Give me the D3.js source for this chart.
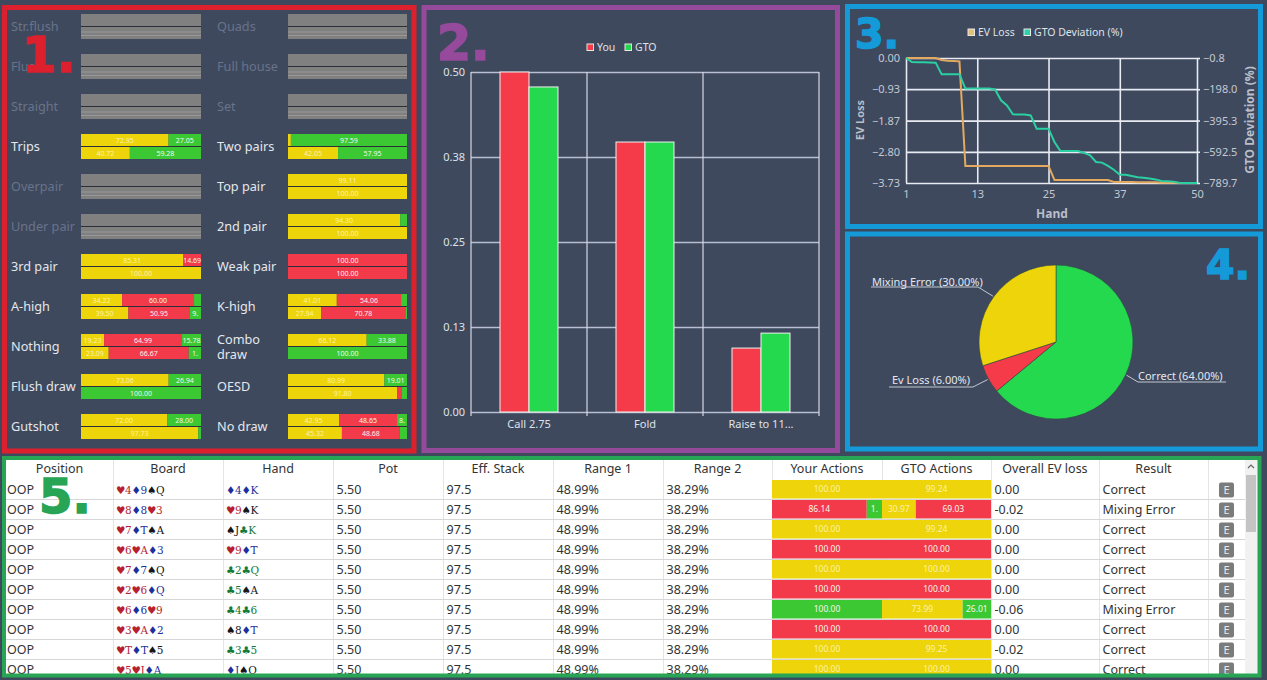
<!DOCTYPE html>
<html>
<head>
<meta charset="utf-8">
<script src="https://cdn.jsdelivr.net/npm/d3@7"></script>
<style>
  body { margin: 0; background: #3e495e; overflow: hidden; }
  svg { display: block; font-family: "Noto Sans", "Open Sans", sans-serif; }
  .axis path { display: none; }
</style>
</head>
<body>
<div id="chart"></div>
<script>
'use strict'

// 1. hand categories, [yellow, red, green] shares, null = no data
const leftNames = ['Str.flush', 'Flush', 'Straight', 'Trips', 'Overpair', 'Under pair', '3rd pair', 'A-high', 'Nothing', 'Flush draw', 'Gutshot']
const rightNames = ['Quads', 'Full house', 'Set', 'Two pairs', 'Top pair', '2nd pair', 'Weak pair', 'K-high', 'Combo draw', 'OESD', 'No draw']
const leftTop = [null, null, null, [72.95, 0, 27.05], null, null, [85.31, 14.69, 0], [34.22, 60.00, 5.78], [19.23, 64.99, 15.78], [73.06, 0, 26.94], [72.00, 0, 28.00]]
const leftBottom = [null, null, null, [40.72, 0, 59.28], null, null, [100, 0, 0], [39.50, 50.95, 9.55], [23.09, 66.67, 10.24], [0, 0, 100], [97.73, 0, 2.27]]
const rightTop = [null, null, null, [2.41, 0, 97.59], [99.11, 0, 0], [94.30, 0, 5.70], [0, 100, 0], [41.01, 54.06, 4.93], [66.12, 0, 33.88], [80.99, 0, 19.01], [42.95, 48.65, 8.40]]
const rightBottom = [null, null, null, [42.05, 0, 57.95], [100, 0, 0], [100, 0, 0], [0, 100, 0], [27.94, 70.78, 1.28], [0, 0, 100], [91.80, 3.90, 4.30], [45.32, 48.68, 6.00]]

// 2. action frequencies
const actions = ['Call 2.75', 'Fold', 'Raise to 11...']
const youFreq = [0.5, 0.397, 0.094]
const gtoFreq = [0.478, 0.397, 0.116]
const freqTicks = [0, 0.125, 0.25, 0.375, 0.5]
const freqLabels = ['0.00', '0.13', '0.25', '0.38', '0.50']

// 3. cumulative lines, hands 1..50
const evLoss = [0, 0, 0, 0, 0, 0, -0.06, -0.08, -0.09, -0.10, -3.22, -3.22, -3.22, -3.22, -3.22, -3.22, -3.22, -3.22, -3.22, -3.22, -3.22, -3.22, -3.22, -3.22, -3.22, -3.64, -3.64, -3.64, -3.64, -3.64, -3.64, -3.64, -3.64, -3.64, -3.64, -3.70, -3.70, -3.70, -3.70, -3.71, -3.71, -3.71, -3.71, -3.72, -3.72, -3.72, -3.73, -3.73, -3.73, -3.73]
const gtoDeviation = [-0.8, -26, -27, -28, -29, -30, -104, -104, -104, -104, -194, -194, -194, -194, -194, -199, -268, -300, -356, -358, -358, -363, -447, -447, -447, -531, -588, -588, -588, -588, -600, -615, -657, -661, -682, -706, -737, -737, -745, -754, -756, -762, -767, -777, -779, -781, -788, -789.7, -789.7, -789.7]
const handTicks = [1, 13, 25, 37, 50]
const evTicks = [0, -0.93, -1.87, -2.80, -3.73]
const devTicks = [-0.8, -198.0, -395.3, -592.5, -789.7]

// 4. result share
const resultNames = ['Correct', 'Ev Loss', 'Mixing Error']
const resultShare = [64, 6, 30]

// 5. table
const tableHeaders = ['Position', 'Board', 'Hand', 'Pot', 'Eff. Stack', 'Range 1', 'Range 2', 'Your Actions', 'GTO Actions', 'Overall EV loss', 'Result', '']
const boards = ['h4 d9 sQ', 'h8 d8 h3', 'h7 dT sA', 'h6 hA d3', 'h7 d7 sQ', 'h2 h6 dQ', 'h6 d6 h9', 'h3 hA d2', 'hT dT s5', 'h5 hJ dA']
const hands = ['d4 dK', 'h9 sK', 'sJ cK', 'h9 dT', 'c2 cQ', 'c5 sA', 'c4 c6', 's8 dT', 'c3 c5', 'dJ sQ']
const yourActions = [[100, 0, 0], [0, 86.14, 13.86], [100, 0, 0], [0, 100, 0], [100, 0, 0], [0, 100, 0], [0, 0, 100], [0, 100, 0], [100, 0, 0], [100, 0, 0]]
const gtoActions = [[99.24, 0, 0], [30.97, 69.03, 0], [99.24, 0, 0], [0, 100, 0], [100, 0, 0], [0, 100, 0], [73.99, 0, 26.01], [0, 100, 0], [99.25, 0, 0], [100, 0, 0]]
const overallEv = ['0.00', '-0.02', '0.00', '0.00', '0.00', '0.00', '-0.06', '0.00', '-0.02', '0.00']
const results = ['Correct', 'Mixing Error', 'Correct', 'Correct', 'Correct', 'Correct', 'Mixing Error', 'Correct', 'Correct', 'Correct']

const BG = '#3e495e', YELLOW = '#eed40a', RED = '#f23a4a', GREEN = '#3cc832', BRIGHT = '#25d94f'
const segColors = [YELLOW, RED, GREEN]

const svg = d3.select('#chart').append('svg').attr('width', 1267).attr('height', 680)
svg.append('rect').attr('width', 1267).attr('height', 680).attr('fill', BG)

// stacked bar of [yellow, red, green], used by panel 1 and the table
function stackBar(g, shares, x0, x1, y0, y1, fontSize) {
    const x = d3.scaleLinear().domain([0, d3.sum(shares)]).range([x0, x1])
    let cum = 0
    shares.forEach((v, i) => {
        if (v <= 0) return
        const a = x(cum), b = x(cum + v)
        cum += v
        g.append('rect').attr('x', a).attr('y', y0).attr('width', b - a).attr('height', y1 - y0).attr('fill', segColors[i])
        // narrow cells cut the number, like the app does
        let label = v.toFixed(2)
        const fits = Math.floor((b - a) / (fontSize * 0.62))
        if (fits < label.length - 1) label = fits >= 2 ? label.slice(0, fits - 1) + '.' : ''
        if (label) {
            g.append('text').attr('x', (a + b) / 2).attr('y', (y0 + y1) / 2 + fontSize * 0.36)
                .attr('text-anchor', 'middle').attr('font-size', fontSize)
                .attr('fill', i == 0 ? '#fbf3a8' : '#f4f6ee').text(label)
        }
    })
}

// ---- panel 1
const rowY = d3.scalePoint().domain(d3.range(11)).range([26.5, 426.5])

function handColumn(names, tops, bottoms, labelX, barX0, barX1) {
    const col = svg.append('g')
    names.forEach((name, i) => {
        const cy = rowY(i), dim = tops[i] == null
        const label = col.append('text').attr('x', labelX).attr('font-size', 12.7)
            .attr('fill', dim ? '#69738a' : '#e4e7ec')
        if (name == 'Combo draw') {
            label.append('tspan').attr('x', labelX).attr('y', cy - 3).text('Combo')
            label.append('tspan').attr('x', labelX).attr('y', cy + 12).text('draw')
        } else {
            label.attr('y', cy + 4.5).text(name)
        }
        if (dim) {
            col.append('rect').attr('x', barX0).attr('y', cy - 12.5).attr('width', barX1 - barX0).attr('height', 25).attr('fill', '#808080')
            col.append('rect').attr('x', barX0).attr('y', cy + 5).attr('width', barX1 - barX0).attr('height', 1).attr('fill', '#989898')
            col.append('rect').attr('x', barX0).attr('y', cy + 8.5).attr('width', barX1 - barX0).attr('height', 1).attr('fill', '#989898')
        } else {
            stackBar(col, tops[i], barX0, barX1, cy - 12.5, cy - 0.5, 7)
            stackBar(col, bottoms[i], barX0, barX1, cy + 0.5, cy + 12.5, 7)
        }
        col.append('rect').attr('x', barX0).attr('y', cy - 0.5).attr('width', barX1 - barX0).attr('height', 1).attr('fill', '#2a2f3a')
    })
}
handColumn(leftNames, leftTop, leftBottom, 11, 81, 201)
handColumn(rightNames, rightTop, rightBottom, 217, 288, 407)

// ---- panel 2
const freqX = d3.scaleBand().domain(actions).range([471, 819])
const freqY = d3.scaleLinear().domain([0, 0.5]).range([412, 72])
const bars = svg.append('g')

const freqAxisY = bars.append('g').attr('class', 'axis').attr('transform', 'translate(471,0)')
    .call(d3.axisLeft(freqY).tickValues(freqTicks).tickFormat((d, i) => freqLabels[i]).tickSize(-348).tickPadding(6))
freqAxisY.selectAll('line').attr('stroke', '#b9bed2').attr('stroke-width', 1.6)
freqAxisY.selectAll('text').attr('fill', '#dfe2e8').attr('font-size', 11).attr('font-family', 'Noto Sans')

bars.append('g').selectAll('line').data(actions.concat(['end'])).join('line')
    .attr('x1', d => d == 'end' ? freqX.range()[1] : freqX(d))
    .attr('x2', d => d == 'end' ? freqX.range()[1] : freqX(d))
    .attr('y1', 72).attr('y2', 416)
    .attr('stroke', '#d5d8e4').attr('stroke-width', 1.2)

const freqAxisX = bars.append('g').attr('class', 'axis').attr('transform', 'translate(0,412)')
    .call(d3.axisBottom(freqX).tickSize(0).tickPadding(8))
freqAxisX.selectAll('text').attr('fill', '#dfe2e8').attr('font-size', 11).attr('font-family', 'Noto Sans')

const barW = freqX.bandwidth() / 4
;[[youFreq, '#f53a4a', -1], [gtoFreq, BRIGHT, 0]].forEach(([vals, color, off]) => {
    bars.append('g').selectAll('rect').data(vals).join('rect')
        .attr('x', (d, i) => freqX(actions[i]) + freqX.bandwidth() / 2 + off * barW)
        .attr('y', d => freqY(d))
        .attr('width', barW)
        .attr('height', d => freqY(0) - freqY(d))
        .attr('fill', color).attr('stroke', '#f0f2ee').attr('stroke-width', 1)
})

function legendItem(x, y, color, label) {
    svg.append('rect').attr('x', x - 3).attr('y', y - 3).attr('width', 6.5).attr('height', 6.5)
        .attr('fill', color).attr('stroke', '#e8e8e0').attr('stroke-width', 1)
    svg.append('text').attr('x', x + 7).attr('y', y + 4).attr('font-size', 10.5).attr('fill', '#dfe2e8').text(label)
}
legendItem(590, 47, '#f53a4a', 'You')
legendItem(628, 47, BRIGHT, 'GTO')

// ---- panel 3
const handX = d3.scaleLinear().domain([1, 50]).range([906, 1197])
const evY = d3.scaleLinear().domain([-3.73, 0]).range([183, 58])
const devY = d3.scaleLinear().domain([-789.7, -0.8]).range([183, 58])
const lines = svg.append('g')
const tickStyle = sel => {
    sel.selectAll('line').attr('stroke', '#e8ebf2').attr('stroke-width', 1.6)
    sel.selectAll('text').attr('fill', '#c3c8d2').attr('font-size', 11).attr('font-family', 'Noto Sans')
}
lines.append('g').attr('class', 'axis').attr('transform', 'translate(906,0)')
    .call(d3.axisLeft(evY).tickValues(evTicks).tickFormat(d3.format('.2f')).tickSize(-291).tickPadding(6)).call(tickStyle)
lines.append('g').attr('class', 'axis').attr('transform', 'translate(1197,0)')
    .call(d3.axisRight(devY).tickValues(devTicks).tickFormat(d3.format('.1f')).tickSize(3).tickPadding(3)).call(tickStyle)
lines.append('g').attr('class', 'axis').attr('transform', 'translate(0,183)')
    .call(d3.axisBottom(handX).tickValues(handTicks).tickFormat(d => String(d)).tickSize(-125).tickPadding(7)).call(tickStyle)

lines.append('path').datum(evLoss).attr('fill', 'none').attr('stroke', '#e2a95f').attr('stroke-width', 2)
    .attr('d', d3.line().x((d, i) => handX(i + 1)).y(d => evY(d)))
lines.append('path').datum(gtoDeviation).attr('fill', 'none').attr('stroke', '#2ad0a2').attr('stroke-width', 2)
    .attr('d', d3.line().x((d, i) => handX(i + 1)).y(d => devY(d)))

legendItem(971, 32, '#e2c07a', 'EV Loss')
legendItem(1027, 32, '#2ad0b0', 'GTO Deviation (%)')

lines.append('text').attr('x', 1052).attr('y', 218).attr('text-anchor', 'middle').attr('font-size', 12).attr('font-weight', 700).attr('fill', '#b9bec9').text('Hand')
lines.append('text').attr('transform', 'translate(864,120) rotate(-90)').attr('text-anchor', 'middle').attr('font-size', 11).attr('font-weight', 700).attr('fill', '#b9bec9').text('EV Loss')
lines.append('text').attr('transform', 'translate(1254,120) rotate(-90)').attr('text-anchor', 'middle').attr('font-size', 12).attr('font-weight', 700).attr('fill', '#b9bec9').text('GTO Deviation (%)')

// ---- panel 4
const pieG = svg.append('g').attr('transform', 'translate(1056,342)')
const slices = d3.pie().sort(null)(resultShare)
const sliceColors = [BRIGHT, '#f53a4a', YELLOW]
pieG.selectAll('path').data(slices).join('path')
    .attr('d', d3.arc().innerRadius(0).outerRadius(77))
    .attr('fill', (d, i) => sliceColors[i])
    .attr('stroke', '#2f4a45').attr('stroke-width', 0.6)

const leaderArc = d3.arc().innerRadius(78).outerRadius(78)
// text start, baseline and underline span relative to pie centre
const pieLabels = [
    {x: 82, y: 39, ux0: 82, ux1: 170, uy: 40},
    {x: -164, y: 43, ux0: -167, ux1: -83, uy: 45},
    {x: -184, y: -55, ux0: -185, ux1: -78, uy: -55}
]
slices.forEach((d, i) => {
    const [sx, sy] = leaderArc.centroid(d), p = pieLabels[i]
    const near = sx > 0 ? p.ux0 : p.ux1
    pieG.append('path').attr('fill', 'none').attr('stroke', '#e4e7ee').attr('stroke-width', 0.8)
        .attr('d', d3.line()([[sx, sy], [near, p.uy], [sx > 0 ? p.ux1 : p.ux0, p.uy]]))
    pieG.append('text').attr('x', p.x).attr('y', p.y - 1.5).attr('font-size', 11).attr('fill', '#e4e7ee')
        .text(`${resultNames[i]} (${resultShare[i].toFixed(2)}%)`)
})

// ---- panel 5
const colEdges = [6, 113, 223, 333, 443, 553, 663, 772, 882, 991, 1099, 1208, 1245]
const tableRowY = d3.scaleLinear().domain([0, 1]).range([480, 500])
const suitGlyph = {h: '♥', d: '♦', s: '♠', c: '♣'}
const suitColor = {h: '#b81f2f', d: '#1b2f9e', s: '#15151a', c: '#147a35'}

svg.append('clipPath').attr('id', 'tableClip').append('rect').attr('x', 4).attr('y', 459).attr('width', 1254).attr('height', 215)
const table = svg.append('g').attr('clip-path', 'url(#tableClip)')
table.append('rect').attr('x', 4).attr('y', 459).attr('width', 1254).attr('height', 215).attr('fill', '#ffffff')

colEdges.slice(1, 12).forEach(x => {
    table.append('line').attr('x1', x + 0.5).attr('x2', x + 0.5).attr('y1', 459).attr('y2', 680).attr('stroke', '#e4e4e4')
})
tableHeaders.forEach((h, i) => {
    table.append('text').attr('x', (colEdges[i] + colEdges[i + 1]) / 2).attr('y', 473)
        .attr('text-anchor', 'middle').attr('font-size', 12.5).attr('fill', '#333').text(h)
})

function cards(g, x, y, spec) {
    const t = g.append('text').attr('x', x).attr('y', y).attr('font-size', 10.5).attr('letter-spacing', -0.3).attr('font-family', 'DejaVu Serif')
    spec.split(' ').forEach(c => {
        t.append('tspan').attr('fill', suitColor[c[0]]).text(suitGlyph[c[0]] + c[1])
    })
}

boards.forEach((b, i) => {
    const y0 = tableRowY(i), base = y0 + 14
    const row = table.append('g')
    const plain = (col, txt) => row.append('text').attr('x', col == 0 ? 7 : colEdges[col] + 3.5).attr('y', base)
        .attr('font-size', 12.5).attr('fill', '#333').text(txt)
    plain(0, 'OOP')
    cards(row, 116, base, b)
    cards(row, 226, base, hands[i])
    plain(3, '5.50')
    plain(4, '97.5')
    plain(5, '48.99%')
    plain(6, '38.29%')
    stackBar(row, yourActions[i], colEdges[7], colEdges[8], y0, y0 + 18.5, 8.5)
    stackBar(row, gtoActions[i], colEdges[8], colEdges[9], y0, y0 + 18.5, 8.5)
    plain(9, overallEv[i])
    plain(10, results[i])
    row.append('rect').attr('x', 1219).attr('y', y0 + 2.5).attr('width', 15).attr('height', 15).attr('rx', 2).attr('fill', '#7b7b7b')
    row.append('text').attr('x', 1226.5).attr('y', y0 + 14).attr('text-anchor', 'middle').attr('font-size', 11).attr('fill', '#e8e8e8').text('E')
    row.append('line').attr('x1', 6).attr('x2', 1245).attr('y1', y0 + 19.5).attr('y2', y0 + 19.5).attr('stroke', '#d6d6d6')
})

// scroll bar
table.append('rect').attr('x', 1245).attr('y', 459).attr('width', 13).attr('height', 215).attr('fill', '#f1f1f1')
table.append('rect').attr('x', 1246).attr('y', 475).attr('width', 10).attr('height', 57).attr('fill', '#c4c4c4')
table.append('path').attr('d', d3.line()([[1248, 468], [1251, 465], [1254, 468]])).attr('fill', 'none').attr('stroke', '#666').attr('stroke-width', 1.2)

// ---- panel frames and big numbers
const frames = [
    {x: 4.5, y: 7.5, x1: 414, y1: 451, c: '#dc202e', sw: 5},
    {x: 424, y: 7.5, x1: 837.5, y1: 450.5, c: '#964a9c', sw: 5},
    {x: 847.5, y: 6.5, x1: 1260.5, y1: 226.5, c: '#149ad8', sw: 5},
    {x: 847.5, y: 234, x1: 1260.5, y1: 449, c: '#149ad8', sw: 5},
    {x: 4, y: 458, x1: 1259.5, y1: 675.5, c: '#28a554', sw: 4}
]
svg.append('g').selectAll('rect').data(frames).join('rect')
    .attr('x', d => d.x).attr('y', d => d.y).attr('width', d => d.x1 - d.x).attr('height', d => d.y1 - d.y)
    .attr('fill', 'none').attr('stroke', d => d.c).attr('stroke-width', d => d.sw)

const bigNumbers = [
    {t: '1.', x: 22, y: 72, s: 50, c: '#dc202e'},
    {t: '2.', x: 437, y: 60, s: 49, c: '#964a9c'},
    {t: '3.', x: 855, y: 48, s: 41, c: '#149ad8'},
    {t: '4.', x: 1206, y: 279, s: 41, c: '#149ad8'},
    {t: '5.', x: 39, y: 513, s: 48, c: '#28a554'}
]
svg.append('g').selectAll('text').data(bigNumbers).join('text')
    .attr('x', d => d.x).attr('y', d => d.y).attr('fill', d => d.c).attr('stroke', d => d.c).attr('stroke-width', 1.6)
    .attr('font-family', 'DejaVu Sans').attr('font-weight', 700).attr('font-size', d => d.s).text(d => d.t)
</script>
</body>
</html>
